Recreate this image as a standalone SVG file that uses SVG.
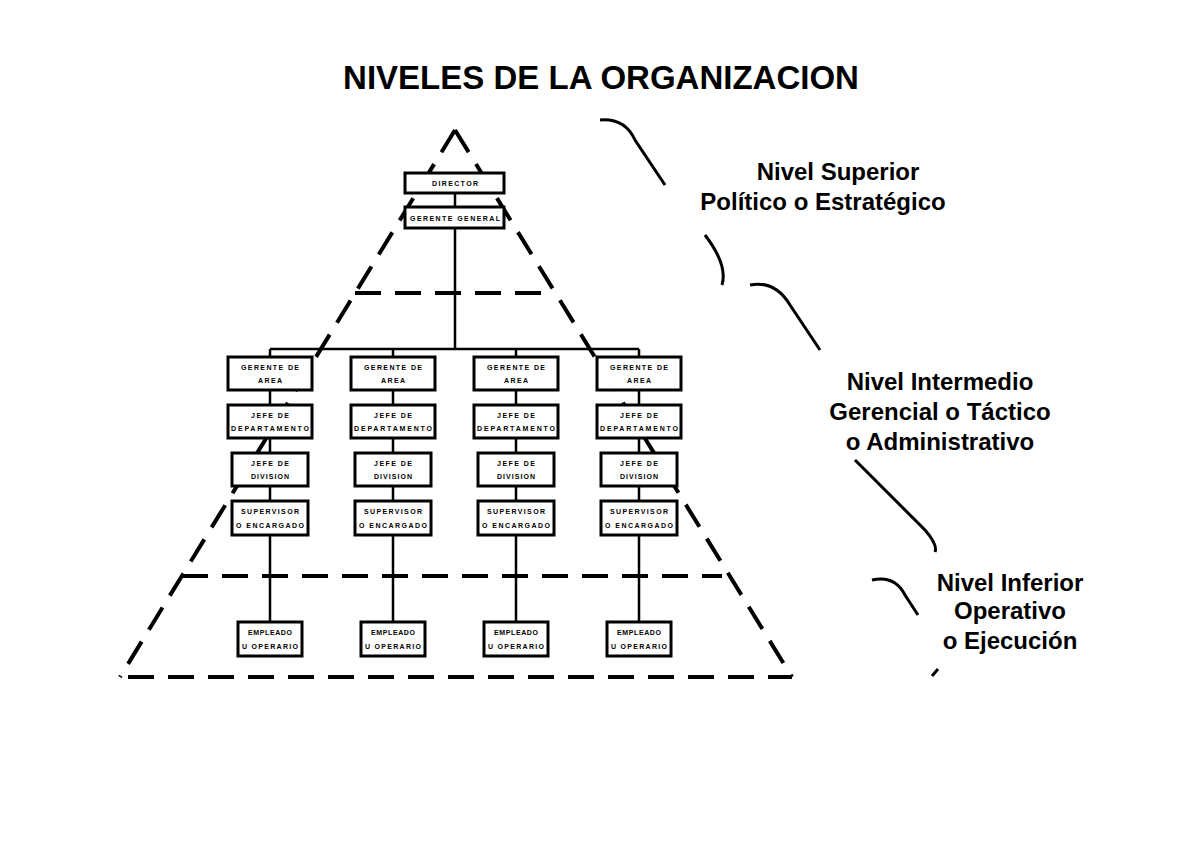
<svg xmlns="http://www.w3.org/2000/svg" width="1200" height="848" viewBox="0 0 1200 848">
<style>
.bx{fill:#fff;stroke:#000;stroke-width:3}
.t{font-family:"Liberation Sans Narrow","Liberation Sans",Arial,sans-serif;font-size:7px;font-weight:bold;text-anchor:middle}
.l{font-family:"Liberation Sans",Arial,sans-serif;font-size:24px;text-anchor:middle;font-weight:bold}
.c{stroke:#000;stroke-width:2.5;fill:none}
.d{stroke:#000;stroke-width:4;fill:none;stroke-dasharray:26 14}
.b{stroke:#000;stroke-width:3;fill:none}
</style>
<rect width="1200" height="848" fill="#fff"/>
<text x="601" y="89" font-family="Liberation Sans,Arial,sans-serif" font-size="33" font-weight="bold" text-anchor="middle">NIVELES DE LA ORGANIZACION</text>
<g id="pyramid">
<path class="d" d="M455 130 L120 677"/>
<path class="d" d="M455 130 L792 677"/>
<path class="d" d="M355 293 L555 293"/>
<path class="d" d="M182 576 L722 576"/>
<path class="d" d="M128 677 L792 677"/>
</g>
<g id="braces">
<path class="b" d="M600 120 Q625 118 635 140 L665 185"/>
<path class="b" d="M705 235 Q728 265 722 285"/>
<path class="b" d="M750 285 Q775 280 790 305 L820 350"/>
<path class="b" d="M855 460 L925 530 Q938 545 935 552"/>
<path class="b" d="M872 580 Q895 575 905 595 L918 615"/>
<path class="b" d="M932 676 L938 669"/>
</g>
<g id="labels">
<text class="l" x="838" y="180">Nivel Superior</text>
<text class="l" x="823" y="210">Político o Estratégico</text>
<text class="l" x="940" y="390">Nivel Intermedio</text>
<text class="l" x="940" y="420">Gerencial o Táctico</text>
<text class="l" x="940" y="450">o Administrativo</text>
<text class="l" x="1010" y="591">Nivel Inferior</text>
<text class="l" x="1010" y="619">Operativo</text>
<text class="l" x="1010" y="649">o Ejecución</text>
</g>
<g id="connectors">
<path class="c" d="M455 193 V349 M270 349 H639"/>
<path class="c" d="M270 349 V622 M393 349 V622 M516 349 V622 M639 349 V622"/>
</g>
<g id="director"><rect class="bx" x="405" y="173" width="99" height="20"/><text class="t" x="455" y="186" textLength="46" lengthAdjust="spacing">DIRECTOR</text></g>
<g id="gerente-general"><rect class="bx" x="405" y="207" width="99" height="21"/><text class="t" x="455" y="221" textLength="90" lengthAdjust="spacing">GERENTE GENERAL</text></g>
<defs>
<g id="col">
<rect class="bx" x="-42" y="357" width="84" height="33"/><text class="t" x="0" y="370" textLength="58" lengthAdjust="spacing">GERENTE DE</text><text class="t" x="0" y="383" textLength="24" lengthAdjust="spacing">AREA</text>
<rect class="bx" x="-42" y="405" width="84" height="33"/><text class="t" x="0" y="418" textLength="38" lengthAdjust="spacing">JEFE DE</text><text class="t" x="0" y="431" textLength="78" lengthAdjust="spacing">DEPARTAMENTO</text>
<rect class="bx" x="-38" y="453" width="76" height="33"/><text class="t" x="0" y="466" textLength="38" lengthAdjust="spacing">JEFE DE</text><text class="t" x="0" y="479" textLength="38" lengthAdjust="spacing">DIVISION</text>
<rect class="bx" x="-38" y="501" width="76" height="34"/><text class="t" x="0" y="514" textLength="58" lengthAdjust="spacing">SUPERVISOR</text><text class="t" x="0" y="528" textLength="68" lengthAdjust="spacing">O ENCARGADO</text>
<rect class="bx" x="-32" y="622" width="64" height="34"/><text class="t" x="0" y="635" textLength="44" lengthAdjust="spacing">EMPLEADO</text><text class="t" x="0" y="649" textLength="56" lengthAdjust="spacing">U OPERARIO</text>
</g>
</defs>
<g id="col1"><use href="#col" x="270"/></g>
<g id="col2"><use href="#col" x="393"/></g>
<g id="col3"><use href="#col" x="516"/></g>
<g id="col4"><use href="#col" x="639"/></g>
</svg>
